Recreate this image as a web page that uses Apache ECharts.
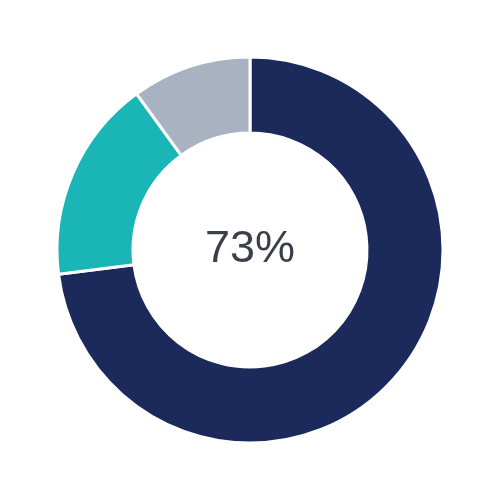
<!DOCTYPE html>
<html>
<head>
<meta charset="utf-8">
<script src="https://cdn.jsdelivr.net/npm/echarts@6/dist/echarts.min.js"></script>
<style>html,body{margin:0;padding:0;background:#fff;}#c{width:500px;height:500px;}</style>
</head>
<body>
<div id="c"></div>
<script>
var categories = ['Navy', 'Teal', 'Gray'];
var values = [73, 17, 10];
var colors = ['#1b2a5a', '#1ab5b6', '#a8b2c0'];
var centerLabel = '73%';

var chart = echarts.init(document.getElementById('c'), null, {renderer: 'canvas'});
chart.setOption({
  animation: false,
  color: colors,
  title: {
    text: centerLabel,
    left: 'center',
    top: 'middle',
    textStyle: {fontFamily: 'Liberation Sans, Arial, sans-serif', fontSize: 45, fontWeight: 'normal', color: '#3b3f48'}
  },
  series: [{
    type: 'pie',
    radius: [117, 193],
    center: ['50%', '50%'],
    startAngle: 90,
    clockwise: true,
    label: {show: false},
    labelLine: {show: false},
    emphasis: {disabled: true},
    itemStyle: {borderColor: '#ffffff', borderWidth: 3},
    data: categories.map(function (c, i) { return {name: c, value: values[i]}; })
  }]
});
</script>
</body>
</html>
